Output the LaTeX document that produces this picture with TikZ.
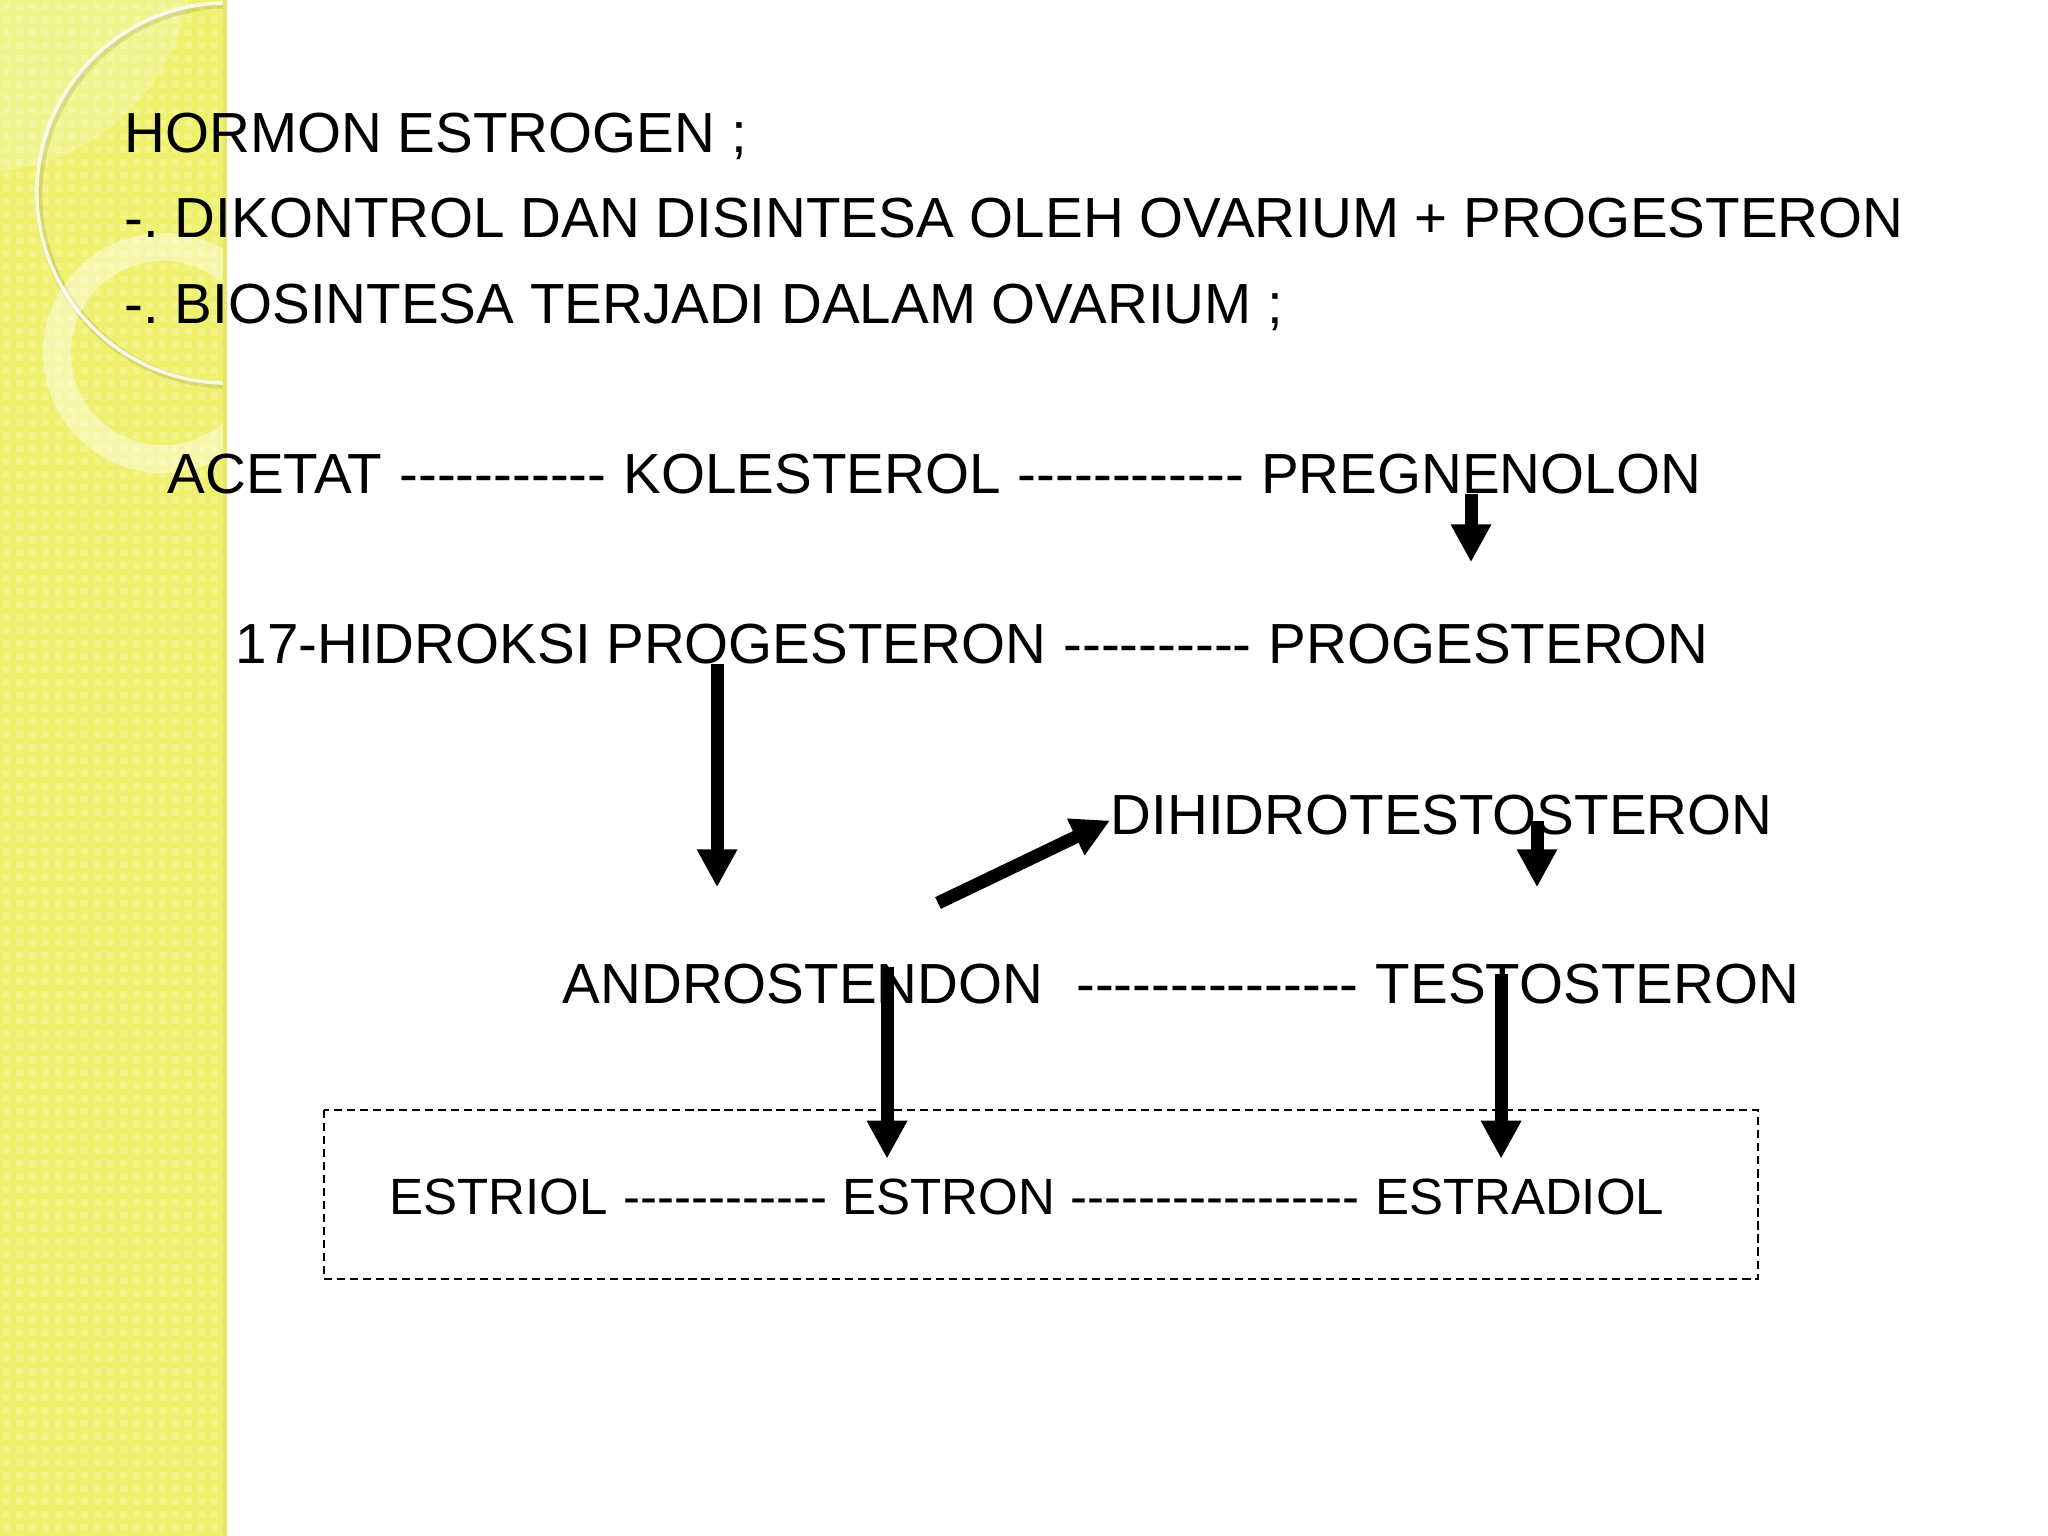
\documentclass[tikz,border=0pt]{standalone}
\usepackage{fontspec}
\setmainfont{Liberation Sans}
\usetikzlibrary{arrows.meta}
\usetikzlibrary{calc}
\definecolor{bandyellow}{RGB}{238,240,110}
\definecolor{bandcheck}{RGB}{243,244,135}
\definecolor{bandedge}{RGB}{232,232,104}
\newcommand\slidefont{\fontsize{16.08pt}{19pt}\selectfont}
\newcommand\estrofont{\fontsize{14.5pt}{17pt}\selectfont}
\newcommand\dashrun[1]{\ {\foreach \k in {1,...,#1}{-}}\ \null}
\frenchspacing
\begin{document}
\begin{tikzpicture}[x=0.01cm, y=-0.01cm,
  slidetext/.style={anchor=base west, inner sep=0pt, font=\slidefont},
  estrotext/.style={anchor=base west, inner sep=0pt, font=\estrofont},
  pathway/.style={line width=3.7pt, -{Triangle[width=10.8pt,length=10.8pt]}},
  boxline/.style={line width=0.6pt, dash pattern=on 2.3pt off 1.4pt}]
  \useasboundingbox (0,0) rectangle (2048,1536);
  \fill[white] (0,0) rectangle (2048,1536);
  % yellow band on the left
  \begin{scope}
    \clip (0,0) rectangle (227,1536);
    \fill[bandyellow] (0,0) rectangle (227,1536);
    \foreach \i in {0,...,17}
      \foreach \j in {0,...,118}
        \fill[bandcheck] (\i*13+3,\j*13+3) rectangle ++(7,7);
    \fill[white, opacity=0.22] (-20,-40) circle (2.12cm);
    \draw[black, opacity=0.1, line width=2pt] (229,195) circle (1.9cm);
    \draw[white, opacity=0.85, line width=1pt] (227,193) circle (1.9cm);
    \fill[white, opacity=0.42, even odd rule] (163,353) circle (1.2cm) (163,353) circle (0.92cm);
    \fill[bandedge] (223,0) rectangle (227,1536);
  \end{scope}
  % heading
  \node[slidetext] (title) at (124,152) {HORMON ESTROGEN ;};
  \node[slidetext] (ctrl) at (124,237) {-. DIKONTROL DAN DISINTESA OLEH OVARIUM + PROGESTERON};
  \node[slidetext] (bios) at (124,323) {-. BIOSINTESA TERJADI DALAM OVARIUM ;};
  % pathway rows
  \node[slidetext] (acetat) at (167,493) {ACETAT};
  \node[slidetext] (link1) at (acetat.base east) {\dashrun{11}};
  \node[slidetext] (kolesterol) at (link1.base east) {KOLESTEROL};
  \node[slidetext] (link2) at (kolesterol.base east) {\dashrun{12}};
  \node[slidetext] (pregnenolon) at (link2.base east) {PREGNENOLON};
  \node[slidetext] (hidroksi) at (235,663) {17-HIDROKSI PROGESTERON};
  \node[slidetext] (link3) at (hidroksi.base east) {\dashrun{10}};
  \node[slidetext] (progesteron) at (link3.base east) {PROGESTERON};
  \node[slidetext] (dihidro) at (1110,834) {DIHIDROTESTOSTERON};
  \node[slidetext] (andro) at (562,1003) {ANDROSTENDON};
  \node[slidetext] (link4) at (andro.base east) {\ \dashrun{15}};
  \node[slidetext] (testosteron) at (link4.base east) {TESTOSTERON};
  \node[estrotext] (estriol) at (389,1214) {ESTRIOL};
  \node[estrotext] (link5) at (estriol.base east) {\dashrun{12}};
  \node[estrotext] (estron) at (link5.base east) {ESTRON};
  \node[estrotext] (link6) at (estron.base east) {\dashrun{17}};
  \node[estrotext] (estradiol) at (link6.base east) {ESTRADIOL};
  \draw[boxline] (324,1110) rectangle (1758,1279);
  % arrows
  \coordinate (dhtfoot) at (938,903);
  \coordinate (androfoot) at ($(andro.south west)+(325,-37)$);
  \coordinate (testofoot) at ($(testosteron.south west)+(126,-30)$);
  \draw[pathway] ([xshift=-0.1cm]pregnenolon.south) -- ++(0,68);
  \draw[pathway] ([xshift=0.76cm]hidroksi.south) -- ++(0,223);
  \draw[pathway] (dhtfoot) -- ([yshift=-0.06cm]dihidro.west);
  \draw[pathway] ($(dihidro.south west)+(427,-14)$) -- ++(0,66);
  \draw[pathway] (androfoot) -- ([yshift=0.19cm]androfoot |- estron.north);
  \draw[pathway] (testofoot) -- ([yshift=0.19cm]testofoot |- estradiol.north);
\end{tikzpicture}
\end{document}
